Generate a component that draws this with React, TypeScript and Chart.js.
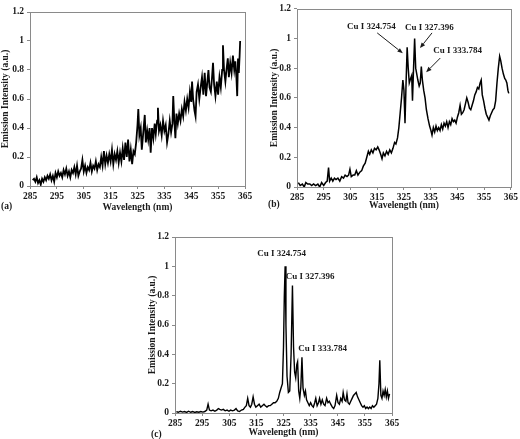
import React, { useEffect, useRef } from "react";
import { Chart, registerables } from "chart.js";

Chart.register(...registerables);

// ---------- data ----------
const xTicks = [285, 295, 305, 315, 325, 335, 345, 355, 365];
const yTicks = [0, 0.2, 0.4, 0.6, 0.8, 1, 1.2];

// (a)
const waveA = [
  286.0, 286.5, 287.0, 287.5, 288.0, 288.5, 289.0, 289.5, 290.0, 290.5,
  291.0, 291.5, 292.0, 292.5, 293.0, 293.5, 294.0, 294.5, 295.0, 295.5,
  296.0, 296.5, 297.0, 297.5, 298.0, 298.5, 299.0, 299.5, 300.0, 300.5,
  301.0, 301.5, 302.0, 302.5, 303.0, 303.5, 304.0, 304.5, 305.0, 305.5,
  306.0, 306.5, 307.0, 307.5, 308.0, 308.5, 309.0, 309.5, 310.0, 310.5,
  311.0, 311.5, 312.0, 312.5, 313.0, 313.5, 314.0, 314.5, 315.0, 315.5,
  316.0, 316.5, 317.0, 317.5, 318.0, 318.5, 319.0, 319.5, 320.0, 320.5,
  321.0, 321.5, 322.0, 322.5, 323.0, 323.5, 324.0, 324.5, 325.0, 325.3,
  325.7, 326.2, 326.6, 327.2, 327.7, 328.1, 328.6, 329.0, 329.5, 329.9,
  330.4, 330.9, 331.4, 331.8, 332.3, 332.6, 333.0, 333.5, 334.0, 334.5,
  335.0, 335.5, 336.0, 336.5, 337.0, 337.5, 338.0, 338.3, 338.7, 339.1,
  339.5, 340.0, 340.5, 341.0, 341.5, 342.0, 342.5, 343.0, 343.5, 344.0,
  344.5, 345.0, 345.3, 345.7, 346.2, 346.6, 347.0, 347.5, 348.0, 348.5,
  349.0, 349.5, 350.0, 350.5, 351.0, 351.4, 351.8, 352.3, 352.7, 353.1,
  353.5, 354.0, 354.5, 355.0, 355.5, 356.0, 356.5, 356.8, 357.2, 357.7,
  358.1, 358.6, 359.0, 359.5, 360.0, 360.5, 361.0, 361.4, 361.8, 362.1,
  362.4, 362.7, 363.0, 363.2,
];
const intA = [
  0.04, 0.05, 0.03, 0.06, 0.02, 0.04, 0.01, 0.05, 0.03, 0.06,
  0.04, 0.07, 0.05, 0.08, 0.04, 0.07, 0.03, 0.09, 0.06, 0.10,
  0.07, 0.09, 0.06, 0.11, 0.08, 0.12, 0.07, 0.10, 0.06, 0.11,
  0.09, 0.13, 0.08, 0.14, 0.07, 0.10, 0.12, 0.18, 0.10, 0.14,
  0.09, 0.13, 0.11, 0.16, 0.10, 0.14, 0.12, 0.17, 0.11, 0.15,
  0.13, 0.20, 0.14, 0.24, 0.15, 0.21, 0.16, 0.22, 0.17, 0.25,
  0.15, 0.22, 0.18, 0.24, 0.16, 0.23, 0.17, 0.26, 0.18, 0.30,
  0.20, 0.32, 0.17, 0.25, 0.15, 0.24, 0.22, 0.30, 0.42, 0.53,
  0.35, 0.40, 0.25, 0.38, 0.49, 0.30, 0.38, 0.32, 0.40, 0.23,
  0.40, 0.33, 0.43, 0.36, 0.45, 0.54, 0.38, 0.42, 0.35, 0.45,
  0.38, 0.42, 0.30, 0.36, 0.45, 0.37, 0.43, 0.62, 0.45, 0.33,
  0.50, 0.43, 0.50, 0.45, 0.53, 0.48, 0.58, 0.52, 0.60, 0.54,
  0.65, 0.58, 0.72, 0.60, 0.52, 0.48, 0.65, 0.70, 0.60, 0.68,
  0.75, 0.63, 0.78, 0.62, 0.72, 0.80, 0.68, 0.65, 0.74, 0.85,
  0.70, 0.62, 0.72, 0.63, 0.75, 0.68, 0.80, 0.97, 0.80, 0.72,
  0.80, 0.88, 0.75, 0.85, 0.78, 0.90, 0.80, 0.86, 0.75, 0.62,
  0.88, 0.78, 0.90, 1.00,
];

// (b)
const waveB = [
  285.5, 286.2, 287.0, 287.7, 288.3, 289.0, 289.8, 290.5, 291.2, 292.0,
  292.8, 293.5, 294.2, 295.0, 295.7, 296.3, 296.8, 297.2, 297.8, 298.4,
  299.0, 299.6, 300.3, 301.0, 301.7, 302.4, 303.0, 303.7, 304.3, 304.8,
  305.3, 306.0, 306.6, 307.2, 307.8, 308.5, 309.2, 309.8, 310.5, 311.1,
  311.7, 312.2, 312.8, 313.4, 314.0, 314.6, 315.2, 315.7, 316.3, 316.8,
  317.3, 317.9, 318.5, 319.1, 319.7, 320.3, 320.9, 321.5, 322.0, 322.6,
  323.1, 323.6, 324.1, 324.6, 325.0, 325.4, 325.8, 326.2, 326.6, 327.0,
  327.5, 327.9, 328.2, 328.6, 329.0, 329.4, 329.8, 330.2, 330.7, 331.1,
  331.5, 331.9, 332.4, 332.9, 333.4, 334.0, 334.6, 335.1, 335.5, 336.0,
  336.5, 337.0, 337.5, 338.0, 338.5, 339.0, 339.5, 340.0, 340.5, 341.0,
  341.5, 342.0, 342.5, 343.0, 343.5, 344.0, 344.5, 345.0, 345.5, 346.0,
  346.5, 347.0, 347.5, 348.0, 348.5, 349.0, 349.5, 350.0, 350.5, 351.0,
  351.5, 352.0, 352.5, 353.0, 353.5, 353.9, 354.3, 354.8, 355.3, 355.8,
  356.3, 356.8, 357.3, 357.8, 358.3, 358.8, 359.3, 359.8, 360.3, 360.8,
  361.2, 361.7, 362.2, 362.7, 363.1, 363.5, 363.9, 364.2,
];
const intB = [
  0.03, 0.01, 0.02, 0.00, 0.03, 0.02, 0.02, 0.01, 0.02, 0.01,
  0.02, 0.00, 0.03, 0.01, 0.03, 0.04, 0.13, 0.04, 0.06, 0.04,
  0.06, 0.05, 0.06, 0.04, 0.07, 0.06, 0.08, 0.07, 0.08, 0.12,
  0.07, 0.08, 0.08, 0.11, 0.08, 0.10, 0.11, 0.14, 0.16, 0.20,
  0.24, 0.22, 0.25, 0.23, 0.26, 0.25, 0.27, 0.25, 0.22, 0.19,
  0.23, 0.21, 0.24, 0.22, 0.25, 0.23, 0.26, 0.30, 0.29, 0.33,
  0.40, 0.50, 0.60, 0.72, 0.65, 0.43, 0.70, 0.94, 0.80, 0.70,
  0.73, 0.75, 0.58, 0.80, 1.00, 0.80, 0.76, 0.72, 0.68, 0.70,
  0.81, 0.72, 0.65, 0.60, 0.52, 0.46, 0.41, 0.38, 0.35, 0.40,
  0.37, 0.41, 0.38, 0.40, 0.38, 0.42, 0.39, 0.43, 0.41, 0.44,
  0.40, 0.44, 0.42, 0.46, 0.44, 0.45, 0.43, 0.47, 0.50, 0.55,
  0.49, 0.50, 0.52, 0.56, 0.60, 0.57, 0.53, 0.52, 0.55, 0.58,
  0.62, 0.64, 0.67, 0.66, 0.70, 0.72, 0.62, 0.58, 0.53, 0.49,
  0.47, 0.45, 0.48, 0.50, 0.52, 0.53, 0.58, 0.70, 0.80, 0.88,
  0.85, 0.80, 0.76, 0.73, 0.72, 0.70, 0.65, 0.63,
];

// (c)
const waveC = [
  285.5, 286.2, 287.0, 287.8, 288.5, 289.3, 290.0, 290.8, 291.5, 292.3,
  293.0, 293.8, 294.5, 295.3, 296.0, 296.7, 297.2, 297.7, 298.3, 299.0,
  299.7, 300.4, 301.0, 301.5, 302.1, 302.8, 303.5, 304.2, 304.9, 305.5,
  306.2, 306.9, 307.5, 308.1, 308.8, 309.5, 310.2, 310.8, 311.3, 311.8,
  312.3, 312.8, 313.3, 313.8, 314.3, 314.8, 315.4, 316.0, 316.6, 317.2,
  317.8, 318.3, 318.9, 319.5, 320.1, 320.7, 321.3, 321.9, 322.5, 323.1,
  323.6, 324.1, 324.6, 325.0, 325.3, 325.6, 325.9, 326.3, 326.8, 327.3,
  327.8, 328.3, 328.7, 329.1, 329.5, 329.9, 330.2, 330.6, 331.0, 331.4,
  331.8, 332.2, 332.7, 333.1, 333.5, 334.0, 334.5, 335.0, 335.5, 336.0,
  336.5, 336.9, 337.4, 337.9, 338.3, 338.8, 339.3, 339.8, 340.3, 340.9,
  341.4, 341.9, 342.4, 343.0, 343.5, 344.0, 344.6, 345.1, 345.6, 346.1,
  346.6, 347.0, 347.5, 348.0, 348.4, 348.8, 349.3, 349.8, 350.3, 350.8,
  351.3, 351.8, 352.3, 352.8, 353.3, 353.8, 354.3, 354.8, 355.3, 355.8,
  356.3, 356.8, 357.3, 357.8, 358.3, 358.8, 359.3, 359.8, 360.2, 360.5,
  360.9, 361.3, 361.7, 362.1, 362.5, 362.9, 363.3, 363.7, 364.1,
];
const intC = [
  0.010, 0.005, 0.012, 0.006, 0.010, 0.004, 0.012, 0.005, 0.010, 0.004,
  0.008, 0.005, 0.010, 0.006, 0.010, 0.020, 0.060, 0.020, 0.015, 0.020,
  0.012, 0.020, 0.030, 0.025, 0.020, 0.025, 0.015, 0.020, 0.012, 0.020,
  0.015, 0.020, 0.030, 0.015, 0.010, 0.020, 0.025, 0.040, 0.050, 0.100,
  0.050, 0.040, 0.060, 0.110, 0.060, 0.040, 0.050, 0.060, 0.040, 0.050,
  0.060, 0.050, 0.040, 0.050, 0.050, 0.060, 0.070, 0.070, 0.080, 0.100,
  0.140, 0.170, 0.200, 0.450, 0.800, 1.000, 0.600, 0.250, 0.140, 0.150,
  0.400, 0.870, 0.450, 0.280, 0.240, 0.330, 0.350, 0.150, 0.100, 0.180,
  0.380, 0.170, 0.120, 0.150, 0.090, 0.070, 0.050, 0.070, 0.050, 0.040,
  0.070, 0.100, 0.050, 0.070, 0.100, 0.060, 0.090, 0.060, 0.050, 0.100,
  0.070, 0.080, 0.060, 0.040, 0.030, 0.050, 0.120, 0.070, 0.060, 0.100,
  0.080, 0.140, 0.090, 0.080, 0.130, 0.070, 0.060, 0.080, 0.100, 0.120,
  0.130, 0.140, 0.110, 0.090, 0.070, 0.050, 0.040, 0.050, 0.030, 0.040,
  0.030, 0.040, 0.030, 0.050, 0.040, 0.050, 0.060, 0.100, 0.200, 0.360,
  0.120, 0.100, 0.150, 0.120, 0.160, 0.110, 0.150, 0.100, 0.130,
];

// annotation texts (position given in data units: wavelength, intensity)
const lineLabels = ["Cu I 324.754", "Cu I 327.396", "Cu I 333.784"];
const notesB = [
  { text: lineLabels[0], x: 312.8, y: 1.078, from: [315.0, 1.037], to: [324.6, 0.9] },
  { text: lineLabels[1], x: 334.5, y: 1.072, from: [335.5, 1.037], to: [331.0, 0.935] },
  { text: lineLabels[2], x: 345.1, y: 0.916, from: [338.6, 0.868], to: [333.3, 0.772] },
];
const notesC = [
  { text: lineLabels[0], x: 324.3, y: 1.084 },
  { text: lineLabels[1], x: 334.8, y: 0.929 },
  { text: lineLabels[2], x: 339.4, y: 0.441 },
];

const FONT = "'Liberation Serif', 'Times New Roman', serif";
const GRAY = "#8a8a8a";
const TEXT = "#1a1a1a";

type Note = { text: string; x: number; y: number; from?: number[]; to?: number[] };

type PanelCfg = {
  wave: number[];
  inten: number[];
  notes: Note[];
  label: string;
  left: number;
  top: number;
  w: number;
  h: number;
  padTop: number;
  padRight: number;
  yW: number;
  xH: number;
  yTitlePad: number;
  xTitlePad: number;
  labelX: number;
  labelY: number;
  lw: number;
};

const panels: PanelCfg[] = [
  { wave: waveA, inten: intA, notes: [], label: "(a)", left: 0, top: 0, w: 260, h: 220,
    padTop: 12, padRight: 15, yW: 30, xH: 34, yTitlePad: 0, xTitlePad: 7, labelX: 1, labelY: 207, lw: 1.8 },
  { wave: waveB, inten: intB, notes: notesB, label: "(b)", left: 260, top: 0, w: 260, h: 220,
    padTop: 5, padRight: 7, yW: 37, xH: 33, yTitlePad: 9, xTitlePad: 9, labelX: 8, labelY: 205, lw: 1.5 },
  { wave: waveC, inten: intC, notes: notesC, label: "(c)", left: 130, top: 225, w: 280, h: 214,
    padTop: 12, padRight: 18, yW: 45, xH: 26, yTitlePad: 17, xTitlePad: 1, labelX: 21, labelY: 210, lw: 1.4 },
];

const boxPlugin = {
  id: "box",
  beforeDatasetsDraw(chart: any) {
    const { ctx, chartArea } = chart;
    const l = Math.round(chartArea.left) + 0.5;
    const t = Math.round(chartArea.top) + 0.5;
    const r = Math.round(chartArea.right) + 0.5;
    const b = Math.round(chartArea.bottom) + 0.5;
    ctx.save();
    ctx.strokeStyle = GRAY;
    ctx.lineWidth = 1;
    ctx.strokeRect(l, t, r - l, b - t);
    ctx.restore();
  },
};

const notesPlugin = {
  id: "notes",
  afterDatasetsDraw(chart: any, _args: any, opts: any) {
    const { ctx, scales } = chart;
    const notes: Note[] = opts.notes || [];
    ctx.save();
    ctx.fillStyle = TEXT;
    ctx.strokeStyle = TEXT;
    ctx.font = `bold 9px ${FONT}`;
    ctx.textAlign = "center";
    ctx.textBaseline = "middle";
    for (const n of notes) {
      ctx.fillText(n.text, scales.x.getPixelForValue(n.x), scales.y.getPixelForValue(n.y));
      if (n.from && n.to) {
        const x1 = scales.x.getPixelForValue(n.from[0]);
        const y1 = scales.y.getPixelForValue(n.from[1]);
        const x2 = scales.x.getPixelForValue(n.to[0]);
        const y2 = scales.y.getPixelForValue(n.to[1]);
        const ang = Math.atan2(y2 - y1, x2 - x1);
        const hl = 5.5;
        const hw = 2.2;
        const bx = x2 - hl * Math.cos(ang);
        const by = y2 - hl * Math.sin(ang);
        ctx.lineWidth = 1;
        ctx.beginPath();
        ctx.moveTo(x1, y1);
        ctx.lineTo(bx, by);
        ctx.stroke();
        ctx.beginPath();
        ctx.moveTo(x2, y2);
        ctx.lineTo(bx + hw * Math.sin(ang), by - hw * Math.cos(ang));
        ctx.lineTo(bx - hw * Math.sin(ang), by + hw * Math.cos(ang));
        ctx.closePath();
        ctx.fill();
      }
    }
    // panel label
    ctx.textAlign = "left";
    ctx.font = `bold 9.5px ${FONT}`;
    ctx.fillText(opts.label, opts.labelX, opts.labelY);
    ctx.restore();
  },
};

function Panel({ cfg }: { cfg: PanelCfg }) {
  const ref = useRef<HTMLCanvasElement>(null);
  useEffect(() => {
    if (!ref.current) return;
    const font = { family: FONT, size: 9.5, weight: "bold" as const };
    const chart = new Chart(ref.current, {
      type: "line",
      data: {
        datasets: [
          {
            data: cfg.wave.map((x, i) => ({ x, y: cfg.inten[i] })),
            borderColor: "#000000",
            borderWidth: cfg.lw,
            pointRadius: 0,
            tension: 0,
            fill: false,
          },
        ],
      },
      options: {
        responsive: false,
        animation: false,
        events: [],
        layout: { padding: { top: cfg.padTop, right: cfg.padRight, left: 0, bottom: 0 } },
        plugins: {
          legend: { display: false },
          tooltip: { enabled: false },
          notes: { notes: cfg.notes, label: cfg.label, labelX: cfg.labelX, labelY: cfg.labelY },
        } as any,
        scales: {
          x: {
            type: "linear",
            min: 285,
            max: 365,
            afterBuildTicks: (s: any) => {
              s.ticks = xTicks.map((v) => ({ value: v }));
            },
            afterFit: (s: any) => {
              s.height = cfg.xH;
            },
            ticks: {
              font,
              color: TEXT,
              padding: 2,
              autoSkip: false,
              maxRotation: 0,
              callback: (v: any) => String(v),
            },
            grid: { display: true, drawOnChartArea: false, drawTicks: true, tickLength: 3, color: GRAY },
            border: { display: false },
            title: {
              display: true,
              text: "Wavelength (nm)",
              font,
              color: TEXT,
              padding: { top: 0, bottom: cfg.xTitlePad },
            },
          },
          y: {
            type: "linear",
            min: 0,
            max: 1.2,
            afterBuildTicks: (s: any) => {
              s.ticks = yTicks.map((v) => ({ value: v }));
            },
            afterFit: (s: any) => {
              s.width = cfg.yW;
            },
            ticks: {
              font,
              color: TEXT,
              padding: 3,
              callback: (v: any) => String(Math.round(Number(v) * 10) / 10),
            },
            grid: { display: true, drawOnChartArea: false, drawTicks: true, tickLength: 3, color: GRAY },
            border: { display: false },
            title: {
              display: true,
              text: "Emission Intensity (a.u.)",
              font,
              color: TEXT,
              padding: { top: cfg.yTitlePad, bottom: 0 },
            },
          },
        },
      },
      plugins: [boxPlugin, notesPlugin],
    });
    return () => chart.destroy();
  }, [cfg]);
  return (
    <canvas
      ref={ref}
      width={cfg.w}
      height={cfg.h}
      style={{ position: "absolute", left: cfg.left, top: cfg.top, width: cfg.w, height: cfg.h }}
    />
  );
}

export default function App() {
  return (
    <div
      style={{
        position: "absolute",
        left: 0,
        top: 0,
        width: 520,
        height: 439,
        background: "#ffffff",
        overflow: "hidden",
      }}
    >
      {panels.map((p, i) => (
        <Panel key={i} cfg={p} />
      ))}
    </div>
  );
}
